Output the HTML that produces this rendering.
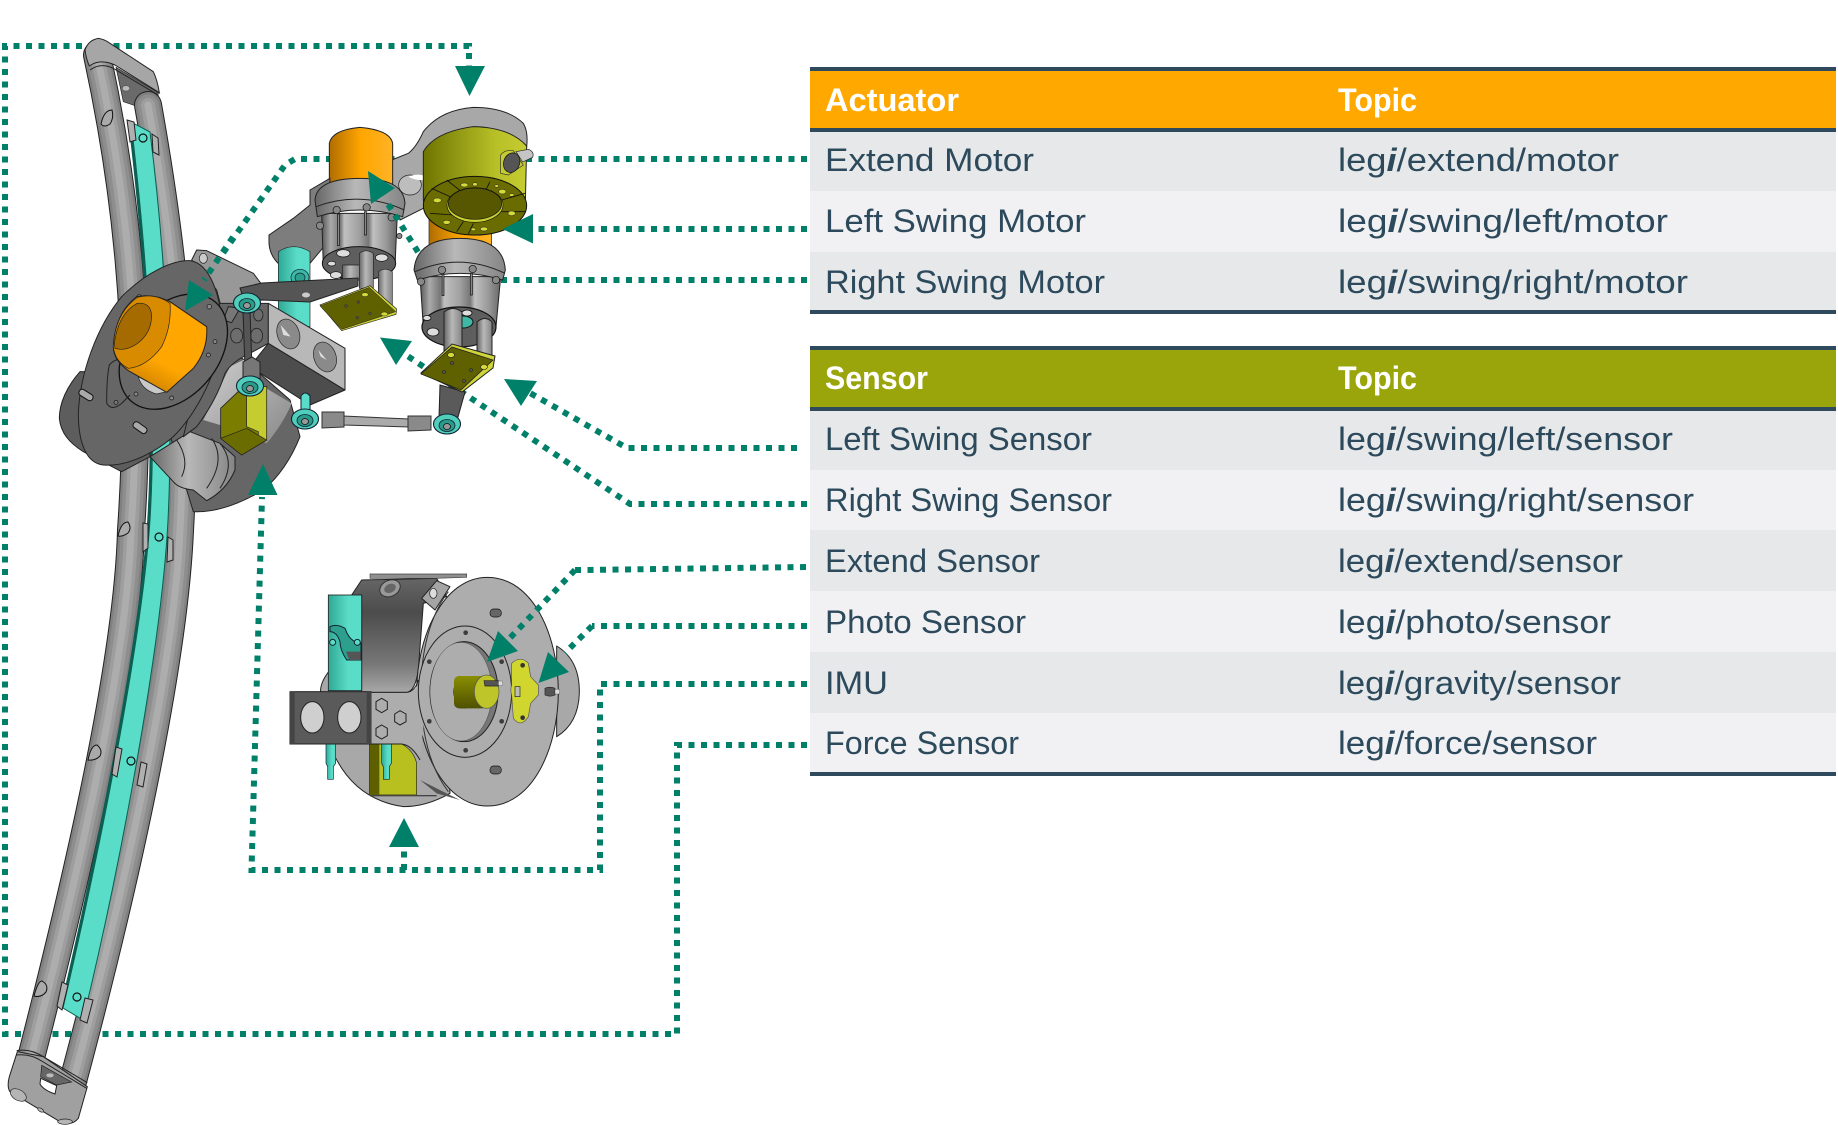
<!DOCTYPE html>
<html><head><meta charset="utf-8"><style>html,body{margin:0;padding:0;background:#fff}svg{display:block}
text{font-family:"Liberation Sans",sans-serif;font-size:32px;fill:#2d4a5c}
.h{font-weight:bold;fill:#fff}
.t tspan{font-weight:bold;font-style:italic}
.d{fill:none;stroke:#008069;stroke-width:6;stroke-dasharray:6 6.5}
.a{fill:#008069}
.k{stroke:#222;stroke-width:3;stroke-linejoin:round}
</style></head><body>
<svg width="1838" height="1125" viewBox="0 0 1838 1125" xmlns="http://www.w3.org/2000/svg">
<defs>
<linearGradient id="gc"><stop offset="0" stop-color="#666"/><stop offset=".45" stop-color="#b8b8b8"/><stop offset="1" stop-color="#858585"/></linearGradient>
<linearGradient id="gs"><stop offset="0" stop-color="#555"/><stop offset=".12" stop-color="#aaa"/><stop offset=".25" stop-color="#777"/><stop offset=".3" stop-color="#c0c0c0"/><stop offset=".5" stop-color="#a0a0a0"/><stop offset=".62" stop-color="#777"/><stop offset=".68" stop-color="#c0c0c0"/><stop offset=".85" stop-color="#999"/><stop offset="1" stop-color="#666"/></linearGradient>
<linearGradient id="go"><stop offset="0" stop-color="#b06c00"/><stop offset=".5" stop-color="#ffa600"/><stop offset="1" stop-color="#ffb326"/></linearGradient>
<linearGradient id="goo" x1="0" y1="1" x2=".5" y2="0"><stop offset="0" stop-color="#b06c00"/><stop offset=".45" stop-color="#ffa600"/><stop offset="1" stop-color="#ffa600"/></linearGradient>
<linearGradient id="gy"><stop offset="0" stop-color="#6e7400"/><stop offset=".7" stop-color="#b8c028"/><stop offset="1" stop-color="#c5cc30"/></linearGradient>
<linearGradient id="gyv" x1="0" y1="0" x2="0" y2="1"><stop offset="0" stop-color="#8a8f00"/><stop offset="1" stop-color="#4f5000"/></linearGradient>
<linearGradient id="gt"><stop offset="0" stop-color="#2fa896"/><stop offset=".6" stop-color="#5addc8"/><stop offset="1" stop-color="#5addc8"/></linearGradient>
<linearGradient id="gv" x1="0" y1="0" x2="0" y2="1"><stop offset="0" stop-color="#666"/><stop offset=".3" stop-color="#4c4c4c"/><stop offset=".75" stop-color="#777"/><stop offset="1" stop-color="#a8a8a8"/></linearGradient>
<linearGradient id="gl" x1="0" y1="0" x2="1" y2="1"><stop offset="0" stop-color="#d0d0d0"/><stop offset="1" stop-color="#888"/></linearGradient>
<g id="re"><ellipse rx="13.500" ry="10" fill="#4fcfbb" stroke="#123" stroke-width="1.100"/><ellipse cy="1.500" rx="8" ry="6" fill="#2a9a8a" stroke="#123" stroke-width=".8"/><ellipse cy="2.500" rx="3.500" ry="3" fill="#999" stroke="#111" stroke-width=".8"/></g>
<path id="pr" d="M148 105C165 200 190 360 180 530C175 650 135 850 72 1085"/>
<path id="pl" d="M97 55C122 170 145 330 131 530C128 650 85 850 24 1085"/>
</defs>

<!-- table 1 -->
<rect x="810" y="68" width="1026" height="62" fill="#ffa800"/>
<rect x="810" y="131" width="1026" height="60" fill="#e7e8ea"/>
<rect x="810" y="191" width="1026" height="61" fill="#f1f1f3"/>
<rect x="810" y="252" width="1026" height="60" fill="#e7e8ea"/>
<rect x="810" y="67" width="1026" height="4" fill="#2f4a5c"/>
<rect x="810" y="128" width="1026" height="4" fill="#2f4a5c"/>
<rect x="810" y="310" width="1026" height="4" fill="#2f4a5c"/>
<text class="h" x="825" y="111" textLength="134" lengthAdjust="spacingAndGlyphs">Actuator</text>
<text class="h" x="1338" y="111" textLength="79" lengthAdjust="spacingAndGlyphs">Topic</text>
<text x="825" y="171" textLength="209" lengthAdjust="spacingAndGlyphs">Extend Motor</text>
<text x="825" y="232" textLength="261" lengthAdjust="spacingAndGlyphs">Left Swing Motor</text>
<text x="825" y="293" textLength="280" lengthAdjust="spacingAndGlyphs">Right Swing Motor</text>
<text class="t" x="1338" y="171" textLength="281" lengthAdjust="spacingAndGlyphs">leg<tspan>i</tspan>/extend/motor</text>
<text class="t" x="1338" y="232" textLength="330" lengthAdjust="spacingAndGlyphs">leg<tspan>i</tspan>/swing/left/motor</text>
<text class="t" x="1338" y="293" textLength="350" lengthAdjust="spacingAndGlyphs">leg<tspan>i</tspan>/swing/right/motor</text>

<!-- table 2 -->
<rect x="810" y="346" width="1026" height="62" fill="#9aa50c"/>
<rect x="810" y="409" width="1026" height="61" fill="#e7e8ea"/>
<rect x="810" y="470" width="1026" height="60" fill="#f1f1f3"/>
<rect x="810" y="530" width="1026" height="61" fill="#e7e8ea"/>
<rect x="810" y="591" width="1026" height="61" fill="#f1f1f3"/>
<rect x="810" y="652" width="1026" height="61" fill="#e7e8ea"/>
<rect x="810" y="713" width="1026" height="60" fill="#f1f1f3"/>
<rect x="810" y="346" width="1026" height="4" fill="#2f4a5c"/>
<rect x="810" y="407" width="1026" height="4" fill="#2f4a5c"/>
<rect x="810" y="772" width="1026" height="4" fill="#2f4a5c"/>
<text class="h" x="825" y="389" textLength="103" lengthAdjust="spacingAndGlyphs">Sensor</text>
<text class="h" x="1338" y="389" textLength="79" lengthAdjust="spacingAndGlyphs">Topic</text>
<text x="825" y="450" textLength="267" lengthAdjust="spacingAndGlyphs">Left Swing Sensor</text>
<text x="825" y="511" textLength="287" lengthAdjust="spacingAndGlyphs">Right Swing Sensor</text>
<text x="825" y="572" textLength="215" lengthAdjust="spacingAndGlyphs">Extend Sensor</text>
<text x="825" y="633" textLength="201" lengthAdjust="spacingAndGlyphs">Photo Sensor</text>
<text x="825" y="694" textLength="63" lengthAdjust="spacingAndGlyphs">IMU</text>
<text x="825" y="754" textLength="194" lengthAdjust="spacingAndGlyphs">Force Sensor</text>
<text class="t" x="1338" y="450" textLength="335" lengthAdjust="spacingAndGlyphs">leg<tspan>i</tspan>/swing/left/sensor</text>
<text class="t" x="1338" y="511" textLength="356" lengthAdjust="spacingAndGlyphs">leg<tspan>i</tspan>/swing/right/sensor</text>
<text class="t" x="1338" y="572" textLength="285" lengthAdjust="spacingAndGlyphs">leg<tspan>i</tspan>/extend/sensor</text>
<text class="t" x="1338" y="633" textLength="273" lengthAdjust="spacingAndGlyphs">leg<tspan>i</tspan>/photo/sensor</text>
<text class="t" x="1338" y="694" textLength="283" lengthAdjust="spacingAndGlyphs">leg<tspan>i</tspan>/gravity/sensor</text>
<text class="t" x="1338" y="754" textLength="259" lengthAdjust="spacingAndGlyphs">leg<tspan>i</tspan>/force/sensor</text>

<!-- connectors behind the parts -->
<path class="d" d="M807 745H677V1034H5V46H469V68"/>
<path class="d" d="M807 159H295L285 165L204 280"/>
<path class="d" d="M807 229H530"/>
<path class="d" d="M807 280H440"/>
<path class="d" d="M797 448H627L530 393"/>
<path class="d" d="M807 504H630L403 353"/>
<path class="d" d="M806 567L586 570H575"/>
<path class="d" d="M807 626H592"/>
<path class="d" d="M807 684H600V870H251.500L262 497"/>
<path class="d" d="M404 870V848"/>

<!-- top cap backing plate -->
<g transform="translate(60,30) scale(.33333)">
<path fill="#6a6a6a" stroke="#222" stroke-width="2" d="M168 112L298 190L240 192L228 228L190 215Z"/>
<ellipse cx="198" cy="175" rx="11" ry="8" fill="#bbb" stroke="#222"/>
</g>

<!-- frame rails -->
<g fill="none" stroke-linecap="round">
<use href="#pr" stroke="#222" stroke-width="28"/>
<use href="#pr" stroke="#808080" stroke-width="26"/>
<use href="#pr" stroke="#8e8e8e" stroke-width="21"/>
<use href="#pr" stroke="#9e9e9e" stroke-width="14"/>
<use href="#pr" stroke="#adadad" stroke-width="7"/>
<use href="#pl" stroke="#222" stroke-width="28"/>
<use href="#pl" stroke="#808080" stroke-width="26"/>
<use href="#pl" stroke="#8e8e8e" stroke-width="21"/>
<use href="#pl" stroke="#9e9e9e" stroke-width="14"/>
<use href="#pl" stroke="#adadad" stroke-width="7"/>
</g>
<!-- teal strip -->
<path d="M131 122C145 240 158 390 150 520C142 640 100 850 63 1008" fill="none" stroke="#0b5f52" stroke-width="2.500" transform="translate(-1.500,0)"/>
<path d="M131 122C145 240 158 390 150 520C142 640 100 850 63 1008L83 1020C122 860 162 640 168 520C174 400 165 250 150 132Z" fill="#5addc8" stroke="#0b5f52" stroke-width="1"/>
<g fill="#b0b0b0" stroke="#222" stroke-width="1">
<path d="M127 120L134 122L136 140L130 142Z"/><path d="M152 134L158 138L159 155L153 152Z"/>
<path d="M143 523L148 524L148 548L143 552Z"/><path d="M168 537L173 540L173 560L167 562Z"/>
<path d="M116 747L122 749L117 777L112 774Z"/><path d="M141 762L147 764L143 787L137 785Z"/>
<path d="M62 982L68 985L62 1010L57 1006Z"/><path d="M85 998L93 1000L87 1023L80 1020Z"/>
</g>
<g fill="#5addc8" stroke="#111" stroke-width="1.200">
<circle cx="143" cy="138" r="4"/><circle cx="159" cy="537" r="4"/><circle cx="131" cy="761" r="4"/><circle cx="77" cy="997" r="4"/>
</g>
<g fill="#aaa" stroke="#111" stroke-width="1">
<path d="M101 124Q104 110 112 110Q114 118 110 124Q104 128 101 124Z"/>
<path d="M118 536Q121 522 128 522Q132 528 128 533Q122 537 118 536Z"/>
<path d="M88 760Q91 745 97 745Q103 750 100 756Q95 761 88 760Z"/>
<path d="M34 996Q38 981 42 981Q49 985 46 992Q41 998 34 996Z"/>
</g>
<!-- top cap -->
<g transform="translate(60,30) scale(.33333)">
<path class="k" fill="#a6a6a6" d="M75 60Q85 30 115 25Q135 28 150 40L280 125Q292 150 298 188L165 105Q120 85 88 108Q78 85 75 60Z"/>
<path fill="none" stroke="#222" stroke-width="3" d="M90 120Q125 95 165 118L296 196"/>
</g>
<!-- bottom cap -->
<g transform="translate(0,860) scale(.33333)">
<path fill="#a0a0a0" stroke="#222" stroke-width="3" stroke-linejoin="round" d="M52 575L28 650Q20 680 30 695L180 785Q215 800 235 775L262 680L130 590Z"/>
<path fill="#666" stroke="#222" stroke-width="2" d="M125 616L215 666L170 675L122 650Z"/>
<path fill="#fff" stroke="#222" stroke-width="3" d="M122 655L170 677L165 702Q130 690 120 672Z"/>
<ellipse cx="150" cy="646" rx="11" ry="6" fill="#bbb"/>
<path fill="none" stroke="#222" stroke-width="3" d="M50 572Q90 565 130 590L262 668M48 585Q90 580 125 603L260 685"/>
<ellipse cx="55" cy="705" rx="26" ry="16" transform="rotate(30 55 705)" fill="#b5b5b5" stroke="#222" stroke-width="2"/>
<ellipse cx="122" cy="750" rx="10" ry="5" transform="rotate(30 122 750)" fill="#b5b5b5" stroke="#222" stroke-width="2"/>
<ellipse cx="195" cy="785" rx="22" ry="8" fill="#b5b5b5" stroke="#222" stroke-width="2"/>
</g>

<!-- upper motors : coordinates of crop 260,110 -->
<g transform="translate(260,110) scale(.33333)">
<!-- yellow motor backing -->
<path class="k" fill="#a8a8a8" d="M395 150L445 130Q470 110 490 65Q540 0 640 -8Q740 -8 790 40Q805 65 800 110L780 300L490 295L420 330Q400 260 395 200Z"/>
<ellipse cx="450" cy="225" rx="34" ry="30" fill="#bdbdbd" stroke="#222" stroke-width="2"/>
<path fill="#fff" d="M445 200Q470 190 490 196V210Q465 212 445 200Z"/>
<!-- orange lower -->
<rect x="507" y="300" width="188" height="125" fill="url(#go)" stroke="#222" stroke-width="2"/>
<!-- yellow motor -->
<path class="k" fill="url(#gy)" d="M490 125Q525 65 640 50Q750 52 800 108L796 280Q780 370 645 375Q505 365 490 270Z"/>
<ellipse cx="645" cy="287" rx="155" ry="88" fill="#6a6c00" stroke="#111" stroke-width="3"/>
<g stroke="#111" stroke-width="2.500"><path d="M515 235L575 262M560 210L605 245M690 215L675 245M795 250L725 270M795 305L725 305M510 310L580 315M610 335L590 365M640 340L625 372"/></g>
<ellipse cx="645" cy="285" rx="84" ry="52" fill="#c8cf30" stroke="#111" stroke-width="2"/>
<ellipse cx="645" cy="281" rx="80" ry="47" fill="#565700" stroke="#111" stroke-width="2"/>
<g fill="#d3da3a" stroke="#222" stroke-width="1.500"><ellipse cx="532" cy="271" rx="12" ry="7"/><ellipse cx="613" cy="225" rx="11" ry="6"/><ellipse cx="645" cy="223" rx="7" ry="5"/><ellipse cx="727" cy="245" rx="11" ry="7"/><ellipse cx="710" cy="228" rx="6" ry="4"/><ellipse cx="755" cy="255" rx="7" ry="4"/><ellipse cx="755" cy="310" rx="11" ry="7"/><ellipse cx="560" cy="337" rx="11" ry="6"/><ellipse cx="672" cy="357" rx="11" ry="6"/><ellipse cx="640" cy="358" rx="7" ry="4"/></g>
<!-- connector -->
<path fill="#c5cc30" stroke="#333" stroke-width="2" d="M722 190V135Q735 118 760 122L790 165L745 195Z"/>
<ellipse cx="755" cy="158" rx="24" ry="30" transform="rotate(20 755 158)" fill="#555" stroke="#111" stroke-width="2"/>
<path fill="#c5c5c5" stroke="#222" stroke-width="2" d="M768 125L805 118Q824 125 818 142L788 156Z"/>
<!-- orange motor 1 -->
<path class="k" fill="url(#go)" d="M208 100Q215 60 300 52Q390 60 398 100V235H208Z"/>
<!-- bracket left -->
<path class="k" fill="#7d7d7d" d="M150 240L210 205L200 400L150 460L60 465Q30 440 27 400V375L100 325L150 285Z"/>
<!-- teal cylinder -->
<path fill="url(#gt)" stroke="#222" stroke-width="2" d="M55 425Q100 395 150 425V650H55Z"/>
<ellipse cx="120" cy="503" rx="27" ry="25" fill="#3cb8a5" stroke="#123" stroke-width="2"/>
<ellipse cx="120" cy="503" rx="15" ry="14" fill="#2c9f8d" stroke="#123" stroke-width="2"/>
<!-- assembly 1 -->
<path class="k" fill="url(#gs)" d="M185 310H412L405 470H190Z"/>
<path class="k" fill="url(#gc)" d="M165 270Q170 205 300 205Q430 205 435 280L428 320Q300 280 172 320Z"/>
<path fill="none" stroke="#222" stroke-width="3" d="M168 290Q300 240 433 300"/>
<g fill="#888" stroke="#111" stroke-width="2"><circle cx="230" cy="300" r="11"/><circle cx="320" cy="292" r="11"/><circle cx="395" cy="322" r="11"/><circle cx="180" cy="347" r="11"/><circle cx="418" cy="378" r="8"/><path d="M232 312h6v95h-6zM313 305h6v70h-6z"/></g>
<ellipse cx="297" cy="460" rx="110" ry="50" fill="#5e5e5e" stroke="#111" stroke-width="3"/>
<g fill="#ddd" stroke="#111" stroke-width="2"><ellipse cx="250" cy="430" rx="20" ry="11"/><ellipse cx="365" cy="443" rx="19" ry="11"/><ellipse cx="228" cy="495" rx="17" ry="10"/><ellipse cx="215" cy="461" rx="12" ry="7"/></g>
<!-- plate 1 tubes -->
<path fill="url(#gc)" stroke="#222" stroke-width="2" d="M248 465H298V510H248Z"/>
<path fill="url(#gc)" stroke="#222" stroke-width="2" d="M298 430Q318 415 340 430V535H298Z"/>
<path fill="url(#gc)" stroke="#222" stroke-width="2" d="M355 485Q375 470 397 485V590H355Z"/>
<!-- plate 1 -->
<path fill="#cfd43a" stroke="#222" stroke-width="2" d="M180 585L330 527L410 597L408 613L245 662Z"/>
<path fill="#5f6000" stroke="#222" stroke-width="1.500" d="M180 588L328 532L407 605L245 658Z"/>
<g fill="#d3da3a" stroke="#222" stroke-width="1.500"><ellipse cx="315" cy="554" rx="10" ry="6"/><ellipse cx="373" cy="612" rx="10" ry="6"/></g>
<g fill="#555" stroke="#222" stroke-width="1.500"><circle cx="258" cy="588" r="4"/><circle cx="295" cy="576" r="4"/><circle cx="330" cy="610" r="4"/><circle cx="292" cy="623" r="4"/></g>
<!-- assembly 2 -->
<path class="k" fill="url(#gs)" d="M480 500H722L708 650H490Z"/>
<path class="k" fill="url(#gc)" d="M462 480Q470 385 600 385Q730 385 736 480L728 510Q600 470 472 510Z"/>
<path fill="none" stroke="#222" stroke-width="3" d="M465 485Q600 425 735 490"/>
<g fill="#888" stroke="#111" stroke-width="2"><circle cx="483" cy="515" r="11"/><circle cx="546" cy="480" r="11"/><circle cx="638" cy="477" r="11"/><circle cx="708" cy="510" r="11"/><path d="M546 492h6v65h-6zM631 490h6v65h-6z"/></g>
</g>

<!-- main body : coordinates of crop 50,240 -->
<g transform="translate(50,240) scale(.33333)">
<!-- back disc -->
<path class="k" fill="#666" d="M340 520L430 815Q520 820 640 750Q710 690 750 590L720 480L560 340Z"/>
<path fill="url(#gl)" d="M460 540L540 380L600 350L640 440L725 490Q700 550 650 610L560 570Z"/>
<!-- cylinder -->
<path class="k" fill="url(#gc)" d="M300 650L420 575L510 610L555 650V690Q530 750 470 782L430 750Q385 745 370 725Z"/>
<path fill="none" stroke="#222" stroke-width="3" d="M380 600Q420 660 395 710M485 595Q530 660 470 745M510 610Q560 670 510 745"/>
<!-- upper bracket -->
<path class="k" fill="#989898" d="M425 60L440 30L470 32L610 100L640 140L600 220L525 245L500 150Z"/>
<ellipse cx="460" cy="55" rx="12" ry="15" fill="#ccc" stroke="#222" stroke-width="2"/>
<!-- side web between plate and block -->
<path class="k" fill="#666" d="M500 190L655 190L655 310L600 340Q545 365 525 400Q500 480 440 560L400 590Z"/>
<path class="k" fill="#777" d="M520 240L535 200L570 205L545 248Z"/>
<g fill="#6d6d6d" stroke="#222" stroke-width="2.500"><ellipse cx="560" cy="287" rx="18" ry="22"/><ellipse cx="620" cy="287" rx="18" ry="22"/><ellipse cx="625" cy="225" rx="14" ry="18"/></g>
<!-- block -->
<path class="k" fill="#4d4d4d" d="M655 310L885 450L780 495L600 380Z"/>
<path class="k" fill="#b8b8b8" d="M655 190L885 325L885 450L655 310Z"/>
<ellipse cx="715" cy="282" rx="33" ry="46" transform="rotate(-20 715 282)" fill="#8a8a8a" stroke="#222" stroke-width="2"/>
<ellipse cx="825" cy="351" rx="33" ry="46" transform="rotate(-20 825 351)" fill="#8a8a8a" stroke="#222" stroke-width="2"/>
<path fill="#ddd" d="M692 255L722 290L700 285ZM805 330L830 360L812 350Z"/>
<!-- back plate edge -->
<path class="k" fill="#5d5d5d" d="M90 395C50 440 28 490 28 535C32 580 60 610 100 635L215 695L300 650L300 400Z"/>
<!-- main plate -->
<path class="k" fill="#666" d="M85 520C90 400 140 260 215 170C290 95 370 60 420 62C480 70 515 170 515 270C510 390 440 520 370 590C300 650 220 680 160 675C110 670 85 610 85 520Z"/>
<!-- ring -->
<ellipse cx="370" cy="335" rx="195" ry="135" transform="rotate(-50 370 335)" fill="#686868" stroke="#111" stroke-width="4"/>
<path fill="#c8c8c8" stroke="#222" stroke-width="2" d="M265 410Q275 450 320 462L350 455Z"/>
<g fill="#888" stroke="#111" stroke-width="2"><circle cx="268" cy="172" r="8"/><circle cx="478" cy="200" r="7"/><circle cx="495" cy="305" r="6"/><circle cx="475" cy="345" r="6"/><circle cx="365" cy="474" r="6"/><circle cx="258" cy="462" r="6"/></g>
<path fill="none" stroke="#222" stroke-width="3" d="M170 490Q170 410 178 375Q195 355 215 358M170 490Q185 515 215 490L240 465"/>
<circle cx="198" cy="487" r="6" fill="#777" stroke="#111" stroke-width="2"/>
<g fill="#aaa" stroke="#111" stroke-width="3"><rect x="85" y="455" width="46" height="20" rx="9" transform="rotate(32 108 465)"/><rect x="247" y="553" width="46" height="20" rx="9" transform="rotate(35 270 563)"/></g>
<!-- orange -->
<path class="k" fill="url(#goo)" d="M260 170Q310 160 360 185L470 260Q475 330 430 385L350 457L235 392Q190 360 190 320Q195 220 260 170Z"/>
<path fill="#d98b00" stroke="#222" stroke-width="2" d="M190 320Q195 220 262 172Q315 158 360 190Q365 260 335 320Q290 380 235 385Q195 365 190 320Z"/>
<path fill="#a56a00" stroke="#222" stroke-width="2" d="M193 310Q205 220 262 190Q300 185 305 225Q305 280 260 312Q225 335 195 325Z"/>
<!-- yellow box -->
<path fill="#7a7d00" stroke="#222" stroke-width="2.500" d="M512 505L575 445L650 440V600L575 645L512 595Z"/>
<path fill="#c5cc30" stroke="#222" stroke-width="2" d="M590 440H650V600L625 612V575L590 560Z"/>
<path fill="#6a6c00" stroke="#222" stroke-width="2" d="M512 595L590 565L650 600L575 645Z"/>
</g>

<!-- links and arm (page coordinates) -->
<g>
<path fill="#555" stroke="#222" d="M240 288L262 283L358 278V286L310 302L262 300L245 303Z"/>
<ellipse cx="306" cy="295" rx="4" ry="2.500" fill="#ccc"/>
<rect x="244" y="305" width="7" height="70" fill="#555" stroke="#222" transform="rotate(-2 247 340)"/>
<path fill="#777" stroke="#222" d="M243 362L252 357L260 362V380H243Z"/>
<use href="#re" x="247" y="303"/>
<use href="#re" x="250" y="386"/>
<path fill="#5addc8" stroke="#123" d="M301 396Q305 390 310 396V412H301Z"/>
<!-- rod -->
<path fill="#aaa" stroke="#333" d="M343 416L409 419V427L343 425Z"/>
<path fill="#8a8a8a" stroke="#333" d="M322 412H344V427L322 428Z"/>
<path fill="#8a8a8a" stroke="#333" d="M408 416H431V430L408 431Z"/>
<!-- arm to plate 2 -->
<path fill="#5a5a5a" stroke="#222" d="M440 385L465 392L458 417L439 417Z"/>
<use href="#re" x="305" y="419"/>
<use href="#re" x="447" y="424"/>
<!-- assembly 2 lower -->
<ellipse cx="459" cy="327" rx="37" ry="20" fill="#5e5e5e" stroke="#111" stroke-width="1.200"/>
<g fill="#ddd" stroke="#111" stroke-width=".8"><ellipse cx="433" cy="332" rx="6" ry="4"/><ellipse cx="427" cy="318" rx="4" ry="2.500"/><ellipse cx="467" cy="313" rx="5" ry="3"/></g>
<ellipse cx="463" cy="322" rx="10" ry="6" fill="#3fb8a5" stroke="#111"/>
<path fill="url(#gc)" stroke="#222" d="M444 312Q453 305 462 312V352H444Z"/>
<path fill="url(#gc)" stroke="#222" d="M477 322Q485 315 492 322V360H477Z"/>
<!-- plate 2 -->
<path fill="#cfd43a" stroke="#222" d="M421 373L452 344L495 356L493 368L462 392Z"/>
<path fill="#5f6000" stroke="#222" stroke-width=".8" d="M421 374L452 347L493 360L461 390Z"/>
<g fill="#d3da3a" stroke="#222" stroke-width=".6"><ellipse cx="451" cy="355" rx="3.500" ry="2.500"/><ellipse cx="484" cy="367" rx="3.500" ry="2.500"/></g>
<g fill="#555" stroke="#222" stroke-width=".6"><circle cx="444" cy="372" r="1.500"/><circle cx="452" cy="363" r="1.500"/><circle cx="464" cy="381" r="1.500"/><circle cx="471" cy="370" r="1.500"/></g>
</g>

<!-- lower unit : coordinates of crop 280,560 -->
<g transform="translate(280,560) scale(.33333)">
<path class="k" fill="#a8a8a8" d="M830 258Q900 300 898 400Q895 490 830 530Z"/>
<path class="k" fill="#a8a8a8" d="M150 330Q118 370 122 400L165 590Q230 720 370 740Q440 740 510 700L500 500Z"/>
<path fill="#555" d="M420 660L500 700L540 720L470 700Z"/>
<path class="k" fill="url(#gv)" d="M215 105L245 60L470 55L500 110L430 130L415 330Q405 395 380 397H245V105Z"/>
<path fill="#8f8f8f" stroke="#444" stroke-width="2" d="M270 42H560V52L470 55H270Z"/>
<ellipse cx="330" cy="85" rx="32" ry="24" transform="rotate(-25 330 85)" fill="#999" stroke="#333" stroke-width="3"/>
<ellipse cx="330" cy="85" rx="18" ry="13" transform="rotate(-25 330 85)" fill="#666"/>
<path class="k" fill="#a5a5a5" d="M425 115L470 62L510 80L465 150Z"/>
<ellipse cx="460" cy="100" rx="11" ry="15" fill="#ddd" stroke="#222" stroke-width="2"/>
<!-- teal column -->
<rect x="145" y="105" width="100" height="287" fill="url(#gt)" stroke="#222" stroke-width="2.500"/>
<path fill="#2c9f8d" stroke="#123" stroke-width="3" d="M150 200Q170 190 195 205Q205 235 225 245L243 250V300H200Q180 270 180 245Q170 215 150 215Z"/>
<path fill="#555" d="M198 275H242V300H208Z"/>
<circle cx="158" cy="247" r="9" fill="#5addc8" stroke="#123" stroke-width="3"/>
<circle cx="232" cy="247" r="9" fill="#5addc8" stroke="#123" stroke-width="3"/>
<!-- pins -->
<path fill="url(#gt)" stroke="#123" stroke-width="2" d="M138 550H167V610L160 620V658H143V620L138 610Z"/>
<!-- yellow box -->
<path fill="#b8c020" stroke="#222" stroke-width="2" d="M268 552H365Q400 570 410 610V705H268Z"/>
<rect x="268" y="552" width="30" height="153" fill="#5e6000"/>
<rect x="270" y="705" width="200" height="4" fill="#444"/>
<path fill="url(#gt)" stroke="#123" stroke-width="2" d="M305 550H334V610L328 620V658H310V620L305 610Z"/>
<!-- main disc -->
<path fill="#adadad" stroke="#222" stroke-width="3" d="M622 52C760 52 835 230 835 395C835 560 760 738 622 738C490 738 410 560 410 395C410 230 490 52 622 52Z"/>
<path fill="none" stroke="#333" stroke-width="3" d="M505 95Q425 200 422 395Q425 590 505 695"/>
<!-- flange -->
<path fill="#adadad" d="M272 397H380Q405 395 415 370L440 420L420 590Q395 552 365 552H272Z"/>
<path fill="none" stroke="#222" stroke-width="3" d="M272 397H380Q405 395 415 360M272 552H365Q395 555 420 600"/>
<!-- block -->
<rect x="30" y="395" width="243" height="157" fill="#5a5a5a" stroke="#222" stroke-width="3"/>
<rect x="30" y="395" width="14" height="157" fill="#444"/>
<rect x="260" y="395" width="14" height="157" fill="#444"/>
<ellipse cx="97" cy="472" rx="35" ry="47" fill="#cfcfcf" stroke="#222" stroke-width="3"/>
<ellipse cx="208" cy="472" rx="35" ry="47" fill="#cfcfcf" stroke="#222" stroke-width="3"/>
<g fill="#adadad" stroke="#222" stroke-width="3"><path d="M305 415L322 425V448L305 458L288 448V425Z"/><path d="M360 452L378 462V485L360 495L344 485V462Z"/><path d="M305 495L322 505V527L305 537L288 527V505Z"/></g>
<!-- ring -->
<ellipse cx="555" cy="395" rx="140" ry="197" fill="#adadad" stroke="#222" stroke-width="3"/>
<ellipse cx="552" cy="395" rx="102" ry="150" fill="#777" stroke="#222" stroke-width="3"/>
<ellipse cx="543" cy="395" rx="93" ry="148" fill="#adadad" stroke="#222" stroke-width="1"/>
<g fill="#3c3c3c"><circle cx="557" cy="218" r="7"/><circle cx="557" cy="571" r="7"/><circle cx="448" cy="305" r="7"/><circle cx="448" cy="484" r="7"/><circle cx="665" cy="305" r="7"/><circle cx="665" cy="484" r="7"/></g>
<g fill="#666" stroke="#111" stroke-width="2"><rect x="630" y="147" width="34" height="24" rx="11"/><rect x="630" y="618" width="34" height="24" rx="11"/></g>
<!-- sensor cylinder -->
<path fill="#222" d="M540 348Q500 395 540 445H560V348Z"/>
<rect x="522" y="348" width="100" height="97" rx="15" fill="url(#gyv)"/>
<ellipse cx="620" cy="395" rx="37" ry="50" fill="#bdc528" stroke="#555" stroke-width="2"/>
<path fill="#555" stroke="#222" stroke-width="2" d="M612 362H655V378H615Z"/>
<rect x="655" y="363" width="13" height="14" rx="3" fill="#ddd" stroke="#333"/>
<!-- yellow bracket -->
<path fill="#d0d62e" stroke="#555" stroke-width="2" d="M695 310Q722 285 745 310L752 350L775 375V405L752 430L745 470Q722 505 700 475L695 405Q690 390 695 375Z"/>
<circle cx="728" cy="316" r="7" fill="#333"/><circle cx="728" cy="473" r="7" fill="#333"/>
<rect x="705" y="380" width="15" height="30" fill="#bbb" stroke="#222" stroke-width="2"/>
<path fill="#555" stroke="#222" stroke-width="2" d="M795 385Q810 378 825 385V405Q810 412 795 405Z"/>
<rect x="825" y="388" width="14" height="14" fill="#ddd" stroke="#333"/>
</g>

<!-- connectors on top -->
<path class="d" d="M418 252L388 204"/>
<path class="d" d="M575 570L508 640"/>
<path class="d" d="M592 626L565 653"/>
<path class="d" d="M233 237L204 280"/>

<!-- arrowheads -->
<path class="a" d="M469.500 96L455 66H485Z"/>
<path class="a" d="M185 311L189 280L213 295Z"/>
<path class="a" d="M368 171L395 188L371 204Z"/>
<path class="a" d="M502.500 229L533 214V243.500Z"/>
<path class="a" d="M504 379L537 381L521 406Z"/>
<path class="a" d="M380 337.500L412 341L396 365Z"/>
<path class="a" d="M487 662L498 631L518 651Z"/>
<path class="a" d="M538.500 683L548 652L569 672Z"/>
<path class="a" d="M263 464L248 495H277.500Z"/>
<path class="a" d="M404 818L389 847H419Z"/>
</svg>
</body></html>
